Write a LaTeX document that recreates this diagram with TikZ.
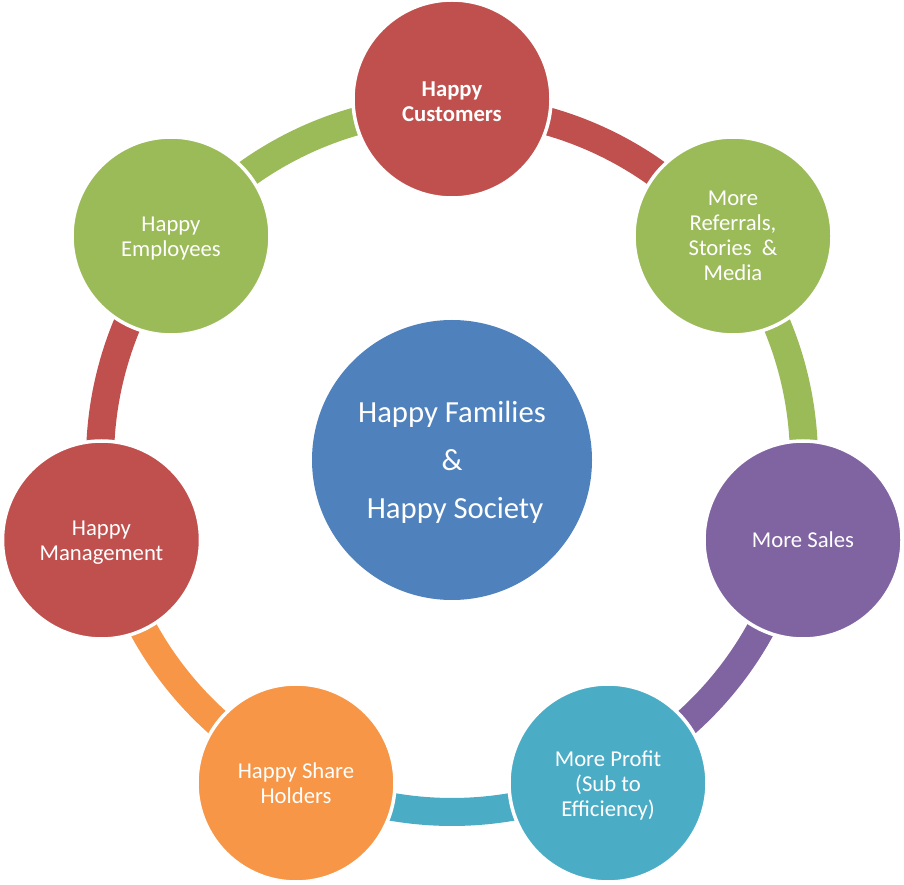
\documentclass[tikz,border=0pt]{standalone}
\usepackage{fontspec}
\setmainfont{Carlito}
\definecolor{cred}{HTML}{C0504D}
\definecolor{cgreen}{HTML}{9BBB59}
\definecolor{cpurple}{HTML}{8064A2}
\definecolor{ccyan}{HTML}{4BACC6}
\definecolor{corange}{HTML}{F79646}
\definecolor{cblue}{HTML}{4F81BD}
\newcommand{\liftby}[1]{\rule{0pt}{#1}}
\tikzset{x=1pt,y=1pt,
 sat/.style={circle,draw=white,line width=3.5pt,minimum size=198pt,inner sep=0pt,text=white,align=center,font=\fontsize{22.7}{25}\selectfont},
 link/.style={line width=28pt}}
\begin{document}
\begin{tikzpicture}
\useasboundingbox (0,0) rectangle (904,884);
\coordinate (c) at (452,424);
\draw[link,cred] (c) ++(76:352) arc (76:52.6:352);
\draw[link,cgreen] (c) ++(24.6:352) arc (24.6:1.2:352);
\draw[link,cpurple] (c) ++(-26.8:352) arc (-26.8:-50.3:352);
\draw[link,ccyan] (c) ++(-78.3:352) arc (-78.3:-101.7:352);
\draw[link,corange] (c) ++(-129.7:352) arc (-129.7:-153.1:352);
\draw[link,cred] (c) ++(-181.1:352) arc (-181.1:-204.6:352);
\draw[link,cgreen] (c) ++(-232.6:352) arc (-232.6:-256:352);
\node[sat,fill=cred,font=\fontsize{22.7}{25}\selectfont\bfseries] (n1) at (452,785) {\liftby{20pt}Happy\\Customers};
\node[sat,fill=cgreen] (n2) at (733,648) {More\\Referrals,\\Stories\ \ \&\\Media};
\node[sat,fill=cpurple] (n3) at (803,344) {More Sales};
\node[sat,fill=ccyan] (n4) at (608,101) {\liftby{20pt}More Profit\\(Sub to\\Efficiency)};
\node[sat,fill=corange] (n5) at (296,101) {Happy Share\\Holders};
\node[sat,fill=cred] (n6) at (101.5,344) {\liftby{20pt}Happy\\Management};
\node[sat,fill=cgreen] (n7) at (171,648) {\liftby{20pt}Happy\\Employees};
\node[circle,fill=cblue,minimum size=280pt,inner sep=0pt,text=white,align=center,font=\fontsize{30.7}{48}\selectfont] (hub) at (452,424) {\liftby{26pt}Happy Families\\\&\\\hspace{6pt}Happy Society};
\end{tikzpicture}
\end{document}
